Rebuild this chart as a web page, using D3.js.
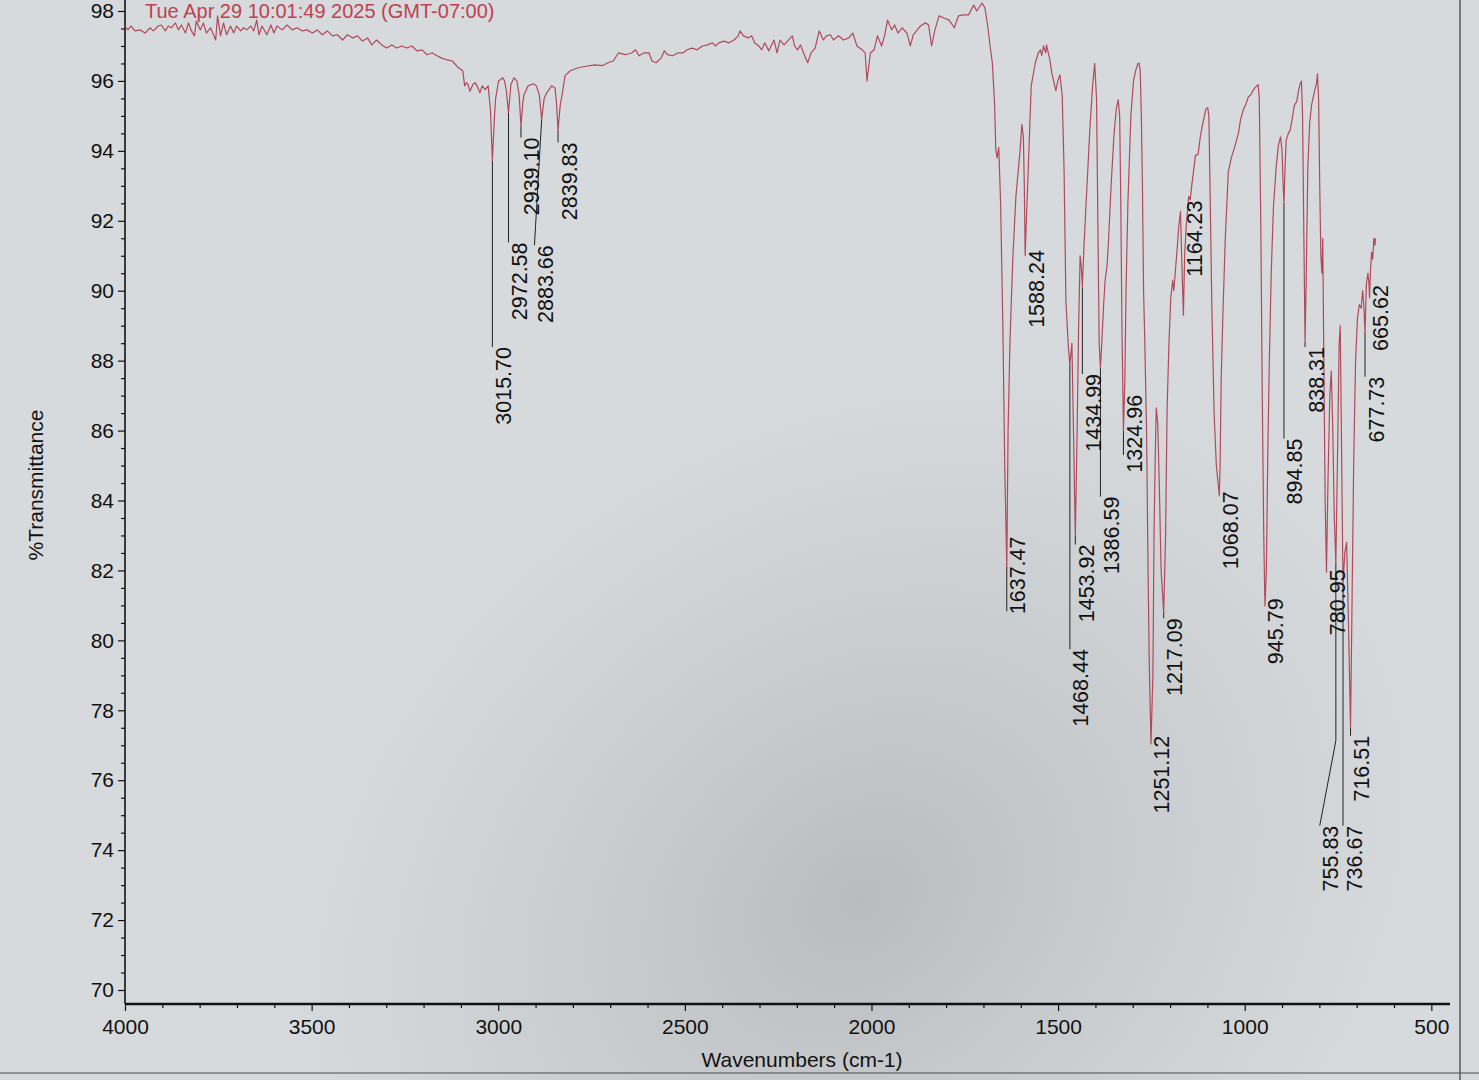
<!DOCTYPE html>
<html><head><meta charset="utf-8">
<script src="https://cdn.jsdelivr.net/npm/d3@7"></script>
<style>html,body{margin:0;padding:0;background:#d5d8da;}svg{display:block;}</style>
</head><body>
<svg id="chart" width="1479" height="1080"></svg>
<script>
// ---------- data ----------
const titleText = "Tue Apr 29 10:01:49 2025 (GMT-07:00)";
const xTickValues = [4000, 3500, 3000, 2500, 2000, 1500, 1000, 500];
const yTickValues = [70, 72, 74, 76, 78, 80, 82, 84, 86, 88, 90, 92, 94, 96, 98];

// [wavenumber (cm-1), %T]
const spectrum = [
[4000,97.57],[3992,97.46],[3984,97.57],[3973,97.43],[3960,97.46],[3946,97.37],[3933,97.52],[3924,97.43],[3911,97.57],[3903,97.60],
[3892,97.43],[3884,97.57],[3876,97.52],[3865,97.66],[3857,97.46],[3849,97.60],[3838,97.37],[3830,97.66],[3822,97.43],[3814,97.29],
[3809,97.71],[3798,97.46],[3790,97.66],[3782,97.37],[3771,97.52],[3757,97.17],[3752,97.86],[3744,97.29],[3736,97.66],[3728,97.32],
[3717,97.57],[3709,97.37],[3701,97.57],[3690,97.43],[3682,97.52],[3674,97.46],[3663,97.57],[3655,97.43],[3647,97.74],[3641,97.32],
[3633,97.57],[3620,97.32],[3609,97.60],[3601,97.37],[3593,97.57],[3579,97.46],[3566,97.60],[3552,97.46],[3539,97.52],[3525,97.43],
[3512,97.46],[3498,97.37],[3485,97.46],[3471,97.32],[3458,97.43],[3444,97.29],[3431,97.32],[3417,97.17],[3404,97.32],[3390,97.23],
[3377,97.29],[3364,97.14],[3350,97.23],[3339,97.03],[3326,97.17],[3312,97.03],[3299,96.94],[3285,97.03],[3272,96.94],[3258,97.00],
[3245,96.94],[3231,97.00],[3218,96.86],[3204,96.89],
[3191,96.75],[3177,96.80],[3164,96.72],[3153,96.66],[3137,96.60],[3123,96.57],[3109,96.40],[3095,96.29],[3090,95.86],[3085,95.95],
[3081,95.90],[3076,95.70],[3068,95.90],[3062,95.95],[3057,95.86],[3049,95.66],[3043,95.86],[3035,95.75],[3027,95.86],[3021,95.20],
[3015.70,93.72],[3010,95.0],[3007,95.5],[2999,96.0],[2988,96.09],[2983,96.0],[2978,95.7],[2972.58,95.09],[2966,95.9],[2958,96.09],
[2950,96.0],[2944,95.6],[2939.10,94.7],[2934,95.4],[2931,95.6],[2920,95.86],[2906,95.92],[2898,95.86],[2890,95.6],[2883.66,94.9],
[2877,95.5],[2870,95.66],[2857,95.86],[2848,95.8],[2844,95.4],[2839.83,94.58],[2834,95.3],[2829,95.6],[2821,96.15],[2807,96.29],
[2788,96.37],[2765,96.42],[2741,96.46],[2720,96.44],[2706,96.52],
[2692,96.57],[2678,96.80],[2659,96.75],[2643,96.80],[2632,96.89],[2623,96.72],[2610,96.80],[2596,96.80],[2588,96.57],[2577,96.52],
[2563,96.66],[2555,96.86],[2547,96.75],[2533,96.72],[2519,96.80],[2505,96.80],[2494,96.89],[2481,96.94],[2467,96.89],[2453,97.00],
[2439,97.03],[2426,97.09],[2418,97.00],[2409,97.09],[2396,97.14],[2382,97.09],[2368,97.17],[2357,97.29],[2352,97.43],[2343,97.29],
[2330,97.23],[2321,97.29],[2313,97.09],[2302,97.00],[2294,96.89],[2286,97.09],[2275,96.86],[2261,97.17],[2253,96.80],[2245,97.17],
[2234,97.03],[2225,97.14],[2212,97.29],[2206,97.00],[2198,96.89],[2190,97.03],[2179,96.72],[2171,96.52],[2162,96.80],[2151,96.94],
[2140,97.43],[2129,97.17],[2121,97.29],[2110,97.32],[2102,97.17],[2088,97.29],[2075,97.17],[2061,97.23],[2050,97.37],[2039,97.00],
[2025,96.89],[2017,96.80],[2012,96.00],[2003,96.80],[1993,96.89],[1984,97.29],[1973,97.00],[1965,97.29],[1957,97.74],[1946,97.46],
[1938,97.60],[1929,97.37],[1918,97.52],[1905,97.37],[1896,97.00],[1888,97.32],[1877,97.46],[1869,97.57],[1855,97.66],[1847,97.60],
[1839,97.00],[1830,97.46],[1819,97.86],[1806,97.80],[1792,97.74],[1778,97.52],[1767,97.86],[1754,97.89],[1740,97.89],[1726,98.17],
[1718,98.00],[1704,98.23],[1696,98.09],
[1689,97.6],[1681,96.9],[1676,96.5],[1670,95.3],[1667,94.04],[1663.5,93.8],[1659,94.1],[1654,92.5],[1648,89.0],[1643,85.0],
[1637.47,82.1],[1634,86.0],[1629,88.5],[1626,89.5],[1621,91.0],[1613,92.7],[1602,94.0],[1597,94.75],[1593,94.4],[1590.5,93.0],
[1588.24,91.0],[1585,92.0],[1580,93.47],[1572,95.86],[1561,96.52],[1553,96.8],[1547,96.89],[1544,96.72],[1539,97.0],[1533,96.8],
[1531,97.03],[1522,96.6],[1517,96.23],[1506,95.72],[1500,96.03],[1495,96.17],[1489,95.58],[1484,93.47],[1479,89.67],[1472,88.3],
[1468.44,87.9],[1463,88.5],[1458,85.5],[1453.92,83.0],[1449,86.0],[1445,89.0],[1441,91.0],[1438,90.7],[1434.99,90.1],[1431,91.2],
[1425,92.5],[1415,94.6],[1408,95.8],[1402,96.5],[1397,95.5],[1393,91.5],[1390,88.5],[1386.59,87.8],[1383,88.5],[1378,89.6],
[1374,90.3],[1369,90.7],[1365,91.4],[1358,93.0],[1350,94.5],[1344,95.2],[1339,95.46],[1335,95.0],[1332,92.5],[1329,89.0],
[1324.96,86.0],[1321,87.5],[1318,90.0],[1313,92.5],[1305,95.0],[1298,96.0],[1292,96.3],[1286,96.5],[1283,96.5],[1280,96.3],
[1277,95.0],[1274,93.0],[1271,90.0],[1268,88.7],[1266,87.6],[1263,86.0],[1260,83.0],[1256,79.5],[1251.12,77.04],[1246,79.0],
[1243,83.0],[1240,85.1],[1237,86.65],[1233,86.2],[1229,84.5],[1224,82.0],[1217.09,80.8],[1212,83.0],[1208,86.6],[1203,88.5],
[1198,89.8],[1193,90.3],[1190,90.0],[1187,90.4],[1181,91.2],[1177,91.8],[1172,92.27],[1169,91.0],[1164.23,89.3],[1161,91.0],
[1157,91.8],[1150,92.7],[1146,92.6],[1142,93.0],[1132,93.87],[1125,93.9],[1119,94.4],[1114,94.7],[1104,95.2],[1099,95.23],
[1096,95.0],[1093,93.0],[1088,89.5],[1082,86.5],[1076,85.0],[1068.07,84.14],[1066,85.0],[1063,87.5],[1058,89.5],[1052,91.5],
[1044,93.4],[1036,93.8],[1030,94.0],[1022,94.3],[1017,94.5],[1011,94.9],[1003,95.2],[998,95.3],[990,95.55],[984,95.6],
[979,95.7],[973,95.8],[968,95.85],[964,95.9],[961,95.5],[957,92.0],[953,87.0],[949,83.0],[945.79,80.98],[942,82.0],
[938,85.5],[934,88.0],[929,90.5],[923,92.4],[916,93.5],[910,94.15],[904,94.4],[900,94.0],[897,93.0],[894.85,92.5],
[892,93.5],[889,94.3],[883,94.5],[878,94.6],[873,94.9],[867,95.3],[861,95.4],[856,95.7],[852,95.9],[848,96.0],
[845,95.0],[842,92.0],[838.31,88.53],[835,90.5],[831,93.5],[826,94.8],[821,95.3],[817,95.5],[812,95.75],[808,95.9],
[805,96.2],[802,95.5],[799,93.0],[796,91.0],[793,90.5],[791,91.5],[788,88.0],[784.5,84.0],[780.95,81.95],[777,84.5],
[772,87.0],[768,87.7],[764,86.0],[760,83.5],[755.83,82.2],[751,85.5],[747,88.5],[744,89.0],[741,86.0],[736.67,81.6],
[732,82.5],[727,82.8],[722,80.5],[716.51,77.5],[712,81.5],[708,85.1],[703,88.0],[698,89.2],[693,89.6],[688,89.5],
[684,90.0],[681,89.6],[677.73,88.8],[674,90.2],[670,90.5],[667,90.2],[665.62,89.8],[663,90.6],[660,91.1],[657,90.9],
[654,91.5],[651,91.3],[650,91.5]
];

// picked peaks
const peakLabels = ["3015.70","2972.58","2939.10","2883.66","2839.83","1637.47","1588.24","1468.44","1453.92","1434.99",
  "1386.59","1324.96","1251.12","1217.09","1164.23","1068.07","945.79","894.85","838.31","780.95","755.83","736.67","716.51","677.73","665.62"];
const peakWavenumbers = peakLabels.map(Number);
const peakTransmittance = [93.72,95.09,94.7,94.9,94.58,82.1,91.0,87.9,83.0,90.1,
  87.8,86.0,77.04,80.8,89.3,84.14,80.98,92.5,88.53,81.95,82.2,81.6,77.5,88.8,89.8];
// %T level where each label text ends (its top)
const labelTopT = [88.39,91.38,94.38,91.30,94.24,82.97,91.16,79.75,82.74,87.62,
  84.11,87.02,77.27,80.63,92.58,84.26,81.2,85.77,88.39,82.03,74.70,74.70,77.27,87.54,90.16];
// %T where the leader line ends
const leaderEndT = [88.39,91.38,94.38,91.30,94.24,80.83,91.16,79.75,82.74,87.62,
  84.11,85.3,77.27,80.63,92.58,84.26,81.2,85.77,88.39,82.03,74.70,74.70,77.27,87.54,90.16];
// wavenumber at which the leader ends / label sits
const labelWavenumbers = [3015.70,2972.58,2939.10,2903,2839.83,1637.47,1588.24,1468.44,1453.92,1434.99,
  1386.59,1324.96,1251.12,1217.09,1164.23,1068.07,945.79,894.85,838.31,780.95,799,736.67,716.51,677.73,665.62];
// %T where the leader bends before going to the label
const leaderBendT = [88.39,91.38,94.38,94.9,94.24,80.83,91.16,79.75,82.74,87.62,
  84.11,85.3,77.27,80.63,92.58,84.26,81.2,85.77,88.39,82.03,77.13,74.70,77.27,87.54,90.16];

// ---------- drawing ----------
const FONT = "'Liberation Sans', Arial, Helvetica, sans-serif";
const svg = d3.select("#chart");
const W = 1479, H = 1080;

const defs = svg.append("defs");
const g1 = defs.append("radialGradient").attr("id","shade")
  .attr("gradientUnits","userSpaceOnUse").attr("cx",860).attr("cy",900).attr("r",620)
  .attr("gradientTransform","translate(860,900) rotate(-35) scale(1,0.8) translate(-860,-900)");
g1.append("stop").attr("offset","0").attr("stop-color","#9a9ea1").attr("stop-opacity",0.5);
g1.append("stop").attr("offset","0.6").attr("stop-color","#a9adb0").attr("stop-opacity",0.22);
g1.append("stop").attr("offset","1").attr("stop-color","#b0b3b5").attr("stop-opacity",0);

svg.append("rect").attr("width",W).attr("height",H).attr("fill","#d7dadc");
svg.append("rect").attr("width",W).attr("height",H).attr("fill","url(#shade)");

const x = d3.scaleLinear().domain([4000, 450]).range([125, 1450]);
const y = d3.scaleLinear().domain([70, 98]).range([990, 11]);
const axisY = y(69.6);

// frame / page lines
svg.append("line").attr("x1",1460).attr("x2",1460).attr("y1",0).attr("y2",H)
  .attr("stroke","#3a3a3a").attr("stroke-width",1.2);
svg.append("line").attr("x1",0).attr("x2",W).attr("y1",1073).attr("y2",1073)
  .attr("stroke","#4a4a4a").attr("stroke-width",1.2);

// title
svg.append("text").attr("x",145).attr("y",18).text(titleText)
  .attr("font-family",FONT).attr("font-size",20).attr("fill","#c0404f");

// y axis
const yAxisG = svg.append("g").attr("transform",`translate(${x(4000)},0)`);
yAxisG.call(d3.axisLeft(y).tickValues(yTickValues).tickSize(7).tickPadding(4).tickFormat(d3.format("d")));
const yMinor = d3.range(70, 98.01, 0.5).filter(v => v % 2 !== 0);
yAxisG.append("g").call(d3.axisLeft(y).tickValues(yMinor).tickSize(4).tickFormat(""));
yAxisG.selectAll(".domain").remove();
yAxisG.selectAll("line").attr("stroke","#111").attr("stroke-width",1.2);
yAxisG.selectAll("text").attr("font-family",FONT).attr("font-size",21).attr("fill","#111");
svg.append("line").attr("x1",x(4000)).attr("x2",x(4000)).attr("y1",0).attr("y2",axisY)
  .attr("stroke","#111").attr("stroke-width",1.6);

// x axis
const xAxisG = svg.append("g").attr("transform",`translate(0,${axisY})`);
xAxisG.call(d3.axisBottom(x).tickValues(xTickValues).tickSize(7).tickPadding(8).tickFormat(d3.format("d")));
const xMinor = d3.range(500, 4001, 100).filter(v => v % 500 !== 0);
xAxisG.append("g").call(d3.axisBottom(x).tickValues(xMinor).tickSize(4).tickFormat(""));
xAxisG.selectAll(".domain").remove();
xAxisG.selectAll("line").attr("stroke","#111").attr("stroke-width",1.2);
xAxisG.selectAll("text").attr("font-family",FONT).attr("font-size",21).attr("fill","#111");
svg.append("line").attr("x1",x(4000)).attr("x2",x(450)).attr("y1",axisY).attr("y2",axisY)
  .attr("stroke","#111").attr("stroke-width",2.6);

// axis titles
svg.append("text").attr("x",802).attr("y",1067).attr("text-anchor","middle")
  .attr("font-family",FONT).attr("font-size",21).attr("fill","#111").text("Wavenumbers (cm-1)");
svg.append("text").attr("transform","translate(43,485) rotate(-90)").attr("text-anchor","middle")
  .attr("font-family",FONT).attr("font-size",21).attr("fill","#111").text("%Transmittance");

// leaders
const leaderG = svg.append("g");
peakLabels.forEach((lab, i) => {
  const pw = peakWavenumbers[i], pt = peakTransmittance[i];
  if (leaderEndT[i] >= pt) return;
  const pts = [[x(pw), y(pt)], [x(pw), y(leaderBendT[i])], [x(labelWavenumbers[i]), y(leaderEndT[i])]];
  leaderG.append("path").attr("d", d3.line()(pts)).attr("fill","none")
    .attr("stroke","#222").attr("stroke-width",1);
});

// spectrum
svg.append("path").datum(spectrum)
  .attr("d", d3.line().x(d => x(d[0])).y(d => y(d[1])))
  .attr("fill","none").attr("stroke","#b04a5b").attr("stroke-width",1.2)
  .attr("stroke-linejoin","round");

// peak labels
const labG = svg.append("g");
peakLabels.forEach((lab, i) => {
  const lx = x(labelWavenumbers[i]) + 18.5;
  const ly = y(labelTopT[i]);
  labG.append("text").attr("transform",`translate(${lx},${ly}) rotate(-90)`)
    .attr("text-anchor","end").attr("font-family",FONT).attr("font-size",21.5)
    .attr("fill","#111").text(lab);
});
</script>
</body></html>
